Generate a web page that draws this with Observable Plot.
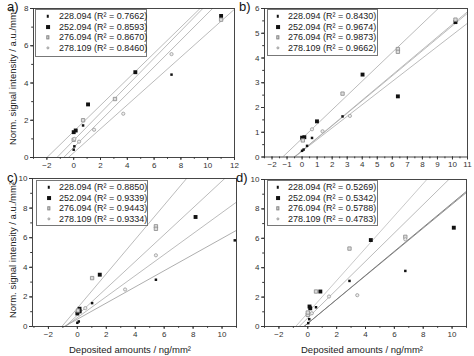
<!DOCTYPE html>
<html><head><meta charset="utf-8">
<script src="https://cdn.jsdelivr.net/npm/d3@7"></script>
<script src="https://cdn.jsdelivr.net/npm/@observablehq/plot@0.6"></script>
<style>
body{margin:0;background:#fff;}
#wrap{position:relative;width:474px;height:356px;overflow:hidden;font-family:"Liberation Sans",Arial,sans-serif;color:#222;}
.panel{position:absolute;}
.letter{position:absolute;font-size:13px;line-height:13px;color:#111;}
.legend{position:absolute;border:1px solid #777;background:#fff;font-size:9px;color:#222;box-sizing:border-box;padding-top:1px;}
.legend .row{position:relative;height:10.6px;line-height:10.6px;white-space:nowrap;}
.legend .mk{position:absolute;top:50%;transform:translate(-50%,-50%);box-sizing:border-box;}
.ylab{position:absolute;font-size:9.5px;white-space:nowrap;transform:translate(-50%,-50%) rotate(-90deg);color:#222;}
.xlab{position:absolute;font-size:9.5px;white-space:nowrap;transform:translate(-50%,-50%);color:#222;}
</style></head>
<body><div id="wrap"></div>
<script>
// ---- data ----
const seriesNames = ["228.094", "252.094", "276.094", "278.109"];

// panel a
const a228 = [[0,0.42],[0.05,0.6],[0.7,1.72],[7.3,4.45]];
const a252 = [[0,1.36],[0.15,1.45],[1.07,2.85],[4.6,4.58],[11.0,7.6]];
const a276 = [[0,0.95],[0.7,2.0],[3.08,3.14],[11.0,7.4]];
const a278 = [[0.05,1.0],[0.4,0.85],[1.52,1.49],[3.7,2.35],[7.3,5.55]];
const aR2 = ["0.7662", "0.8593", "0.8670", "0.8460"];
const aFitX0 = [-2.0, -1.25, -0.75, -0.4];
const aFitSlope = [0.70, 0.735, 0.72, 0.642];

// panel b
const b228 = [[0,0.25],[0.1,0.3],[0.33,0.45],[0.66,0.77],[2.69,1.64]];
const b252 = [[0,0.78],[0.15,0.8],[0.99,1.44],[4.02,3.33],[6.37,2.45],[10.2,5.45]];
const b276 = [[0.05,0.67],[2.69,2.56],[6.37,4.36],[6.37,4.25],[10.2,5.55]];
const b278 = [[0.66,1.12],[1.36,1.04],[3.18,1.66]];
const bR2 = ["0.8430", "0.9674", "0.9873", "0.9662"];
const bFitX0 = [-1.29, -0.51, -0.5, -0.5];
const bFitSlope = [0.58, 0.51, 0.505, 0.47];

// panel c
const c228 = [[0,0.25],[0.1,0.34],[1.02,1.58],[5.43,3.16],[10.88,5.82]];
const c252 = [[0,0.88],[0.16,1.02],[0.15,1.2],[1.55,3.5],[8.17,7.4]];
const c276 = [[0.05,1.08],[1.02,3.27],[5.43,6.77],[5.43,6.6]];
const c278 = [[0.55,1.24],[3.3,2.5],[5.43,4.81]];
const cR2 = ["0.8850", "0.9339", "0.9443", "0.9334"];
const cFitX0 = [-1.07, -0.84, -0.84, -0.9];
const cFitSlope = [1.16, 0.907, 0.71, 0.546];

// panel d
const d228 = [[0.03,0.23],[0.1,0.5],[0.57,1.31],[2.89,3.1],[6.76,3.78]];
const d252 = [[0.12,1.36],[0.17,1.24],[0.87,2.38],[4.37,5.88],[10.12,6.72]];
const d276 = [[0,0.79],[0,0.95],[0.57,2.38],[2.89,5.3],[6.76,6.1]];
const d278 = [[0.28,0.9],[1.47,2.04],[3.43,2.13],[6.76,5.93]];
const dR2 = ["0.5269", "0.5342", "0.5788", "0.4783"];
const dFitX0 = [-0.84, -0.6, -0.26, -0.26];
const dFitSlope = [1.10, 0.964, 0.817, 0.81];

// ---- styles ----
const markStyles = [
  {symbol: "square", r: 1.4, fill: "#111", stroke: "none"},
  {symbol: "square", r: 2.2, fill: "#111", stroke: "none"},
  {symbol: "square", r: 1.9, fill: "#ddd", stroke: "#888", strokeWidth: 0.8},
  {symbol: "circle", r: 1.6, fill: "#eee", stroke: "#999", strokeWidth: 0.8}
];

const panels = [
  {letter: "a)", series: [a228, a252, a276, a278], r2: aR2, x0: aFitX0, slope: aFitSlope,
   xDomain: [-3, 12], yDomain: [0, 8],
   xMajor: d3.range(-2, 12.01, 2), xMinor: d3.range(-3, 12.01, 1),
   yMajor: d3.range(0, 8.01, 2), yMinor: d3.range(0, 8.01, 1),
   lineColors: ["#aaa", "#aaa", "#aaa", "#aaa"],
   left: 0, top: 0, width: 240, height: 172, m: [8, 6, 15, 33],
   legend: {left: 35, top: 9, width: 112, height: 48, mk: 12, tx: 23},
   letterPos: [7, 0]},
  {letter: "b)", series: [b228, b252, b276, b278], r2: bR2, x0: bFitX0, slope: bFitSlope,
   xDomain: [-2.5, 11], yDomain: [0, 6],
   xMajor: d3.range(-2, 11.01, 1), xMinor: d3.range(-2.5, 11.01, 0.5),
   yMajor: d3.range(0, 6.01, 1), yMinor: d3.range(0, 6.01, 0.5),
   lineColors: ["#aaa", "#aaa", "#aaa", "#aaa"],
   left: 234, top: 0, width: 240, height: 172, m: [8, 7, 15.5, 30],
   legend: {left: 267, top: 9, width: 111, height: 47, mk: 10, tx: 20},
   letterPos: [239, 0]},
  {letter: "c)", series: [c228, c252, c276, c278], r2: cR2, x0: cFitX0, slope: cFitSlope,
   xDomain: [-3.1, 11], yDomain: [0, 10],
   xMajor: d3.range(-2, 10.01, 2), xMinor: d3.range(-3, 11.01, 1),
   yMajor: d3.range(0, 10.01, 2), yMinor: d3.range(0, 10.01, 1),
   lineColors: ["#aaa", "#aaa", "#aaa", "#999"],
   left: 0, top: 170, width: 240, height: 172, m: [8, 4, 16, 32],
   legend: {left: 36, top: 180, width: 112, height: 46, mk: 12, tx: 22},
   letterPos: [7, 171]},
  {letter: "d)", series: [d228, d252, d276, d278], r2: dR2, x0: dFitX0, slope: dFitSlope,
   xDomain: [-3, 11], yDomain: [0, 10],
   xMajor: d3.range(-2, 10.01, 2), xMinor: d3.range(-3, 11.01, 1),
   yMajor: d3.range(0, 10.01, 2), yMinor: d3.range(0, 10.01, 1),
   lineColors: ["#bbb", "#aaa", "#666", "#777"],
   left: 234, top: 170, width: 240, height: 172, m: [9, 8, 16, 30],
   legend: {left: 267, top: 180, width: 111, height: 46, mk: 10, tx: 20},
   letterPos: [236, 171]}
];

const wrap = document.getElementById("wrap");

for (const p of panels) {
  const marks = [
    Plot.axisX(p.xMinor, {tickSize: 1.8, fill: "none", label: null, stroke: "#333"}),
    Plot.axisY(p.yMinor, {tickSize: 1.8, fill: "none", label: null, stroke: "#333"}),
    Plot.axisX(p.xMajor, {tickSize: 3, tickPadding: 1.5, label: null, stroke: "#333", fill: "#333"}),
    Plot.axisY(p.yMajor, {tickSize: 3, tickPadding: 2, label: null, stroke: "#333", fill: "#333"})
  ];
  p.x0.forEach((x0, i) => {
    const s = p.slope[i];
    const seg = [{x: x0, y: 0}, {x: p.xDomain[1], y: s * (p.xDomain[1] - x0)}];
    marks.push(Plot.line(seg, {x: "x", y: "y", stroke: p.lineColors[i], strokeWidth: 0.8, clip: true}));
  });
  p.series.forEach((pts, i) => {
    const st = markStyles[i];
    marks.push(Plot.dot(pts, {x: d => d[0], y: d => d[1], symbol: st.symbol, r: st.r, fill: st.fill, stroke: st.stroke, strokeWidth: st.strokeWidth || 1}));
  });
  marks.push(Plot.frame({stroke: "#333", strokeWidth: 0.9}));

  const svg = Plot.plot({
    width: p.width, height: p.height,
    marginTop: p.m[0], marginRight: p.m[1], marginBottom: p.m[2], marginLeft: p.m[3],
    x: {domain: p.xDomain}, y: {domain: p.yDomain},
    style: {fontSize: "8px", fontFamily: "'Liberation Sans', Arial, sans-serif", background: "transparent", color: "#333", overflow: "visible"},
    marks
  });
  const holder = document.createElement("div");
  holder.className = "panel";
  holder.style.left = p.left + "px";
  holder.style.top = p.top + "px";
  holder.appendChild(svg);
  wrap.appendChild(holder);

  // legend
  const lg = document.createElement("div");
  lg.className = "legend";
  Object.assign(lg.style, {left: p.legend.left + "px", top: p.legend.top + "px", width: p.legend.width + "px", height: p.legend.height + "px"});
  seriesNames.forEach((name, i) => {
    const row = document.createElement("div");
    row.className = "row";
    const mk = document.createElement("span");
    mk.className = "mk";
    const st = markStyles[i];
    const side = st.symbol === "square" ? Math.sqrt(Math.PI) * st.r : 2 * st.r;
    Object.assign(mk.style, {left: p.legend.mk + "px", width: side + "px", height: side + "px",
      background: st.fill, border: st.stroke === "none" ? "none" : ("0.8px solid " + st.stroke),
      borderRadius: st.symbol === "circle" ? "50%" : "0"});
    const tx = document.createElement("span");
    tx.style.position = "absolute";
    tx.style.left = p.legend.tx + "px";
    tx.textContent = name + " (R\u00B2 = " + p.r2[i] + ")";
    row.appendChild(mk); row.appendChild(tx);
    lg.appendChild(row);
  });
  wrap.appendChild(lg);

  const lt = document.createElement("div");
  lt.className = "letter";
  lt.style.left = p.letterPos[0] + "px";
  lt.style.top = p.letterPos[1] + "px";
  lt.textContent = p.letter;
  wrap.appendChild(lt);
}

// axis titles
const yTitle = "Norm. signal intensity / a.u./mm\u00B2";
const xTitle = "Deposited amounts / ng/mm\u00B2";
[[12, 77], [12, 250]].forEach(([x, y]) => {
  const d = document.createElement("div");
  d.className = "ylab"; d.style.left = x + "px"; d.style.top = y + "px"; d.textContent = yTitle;
  wrap.appendChild(d);
});
[[130, 349], [362, 349]].forEach(([x, y]) => {
  const d = document.createElement("div");
  d.className = "xlab"; d.style.left = x + "px"; d.style.top = y + "px"; d.textContent = xTitle;
  wrap.appendChild(d);
});
</script>
</body></html>
